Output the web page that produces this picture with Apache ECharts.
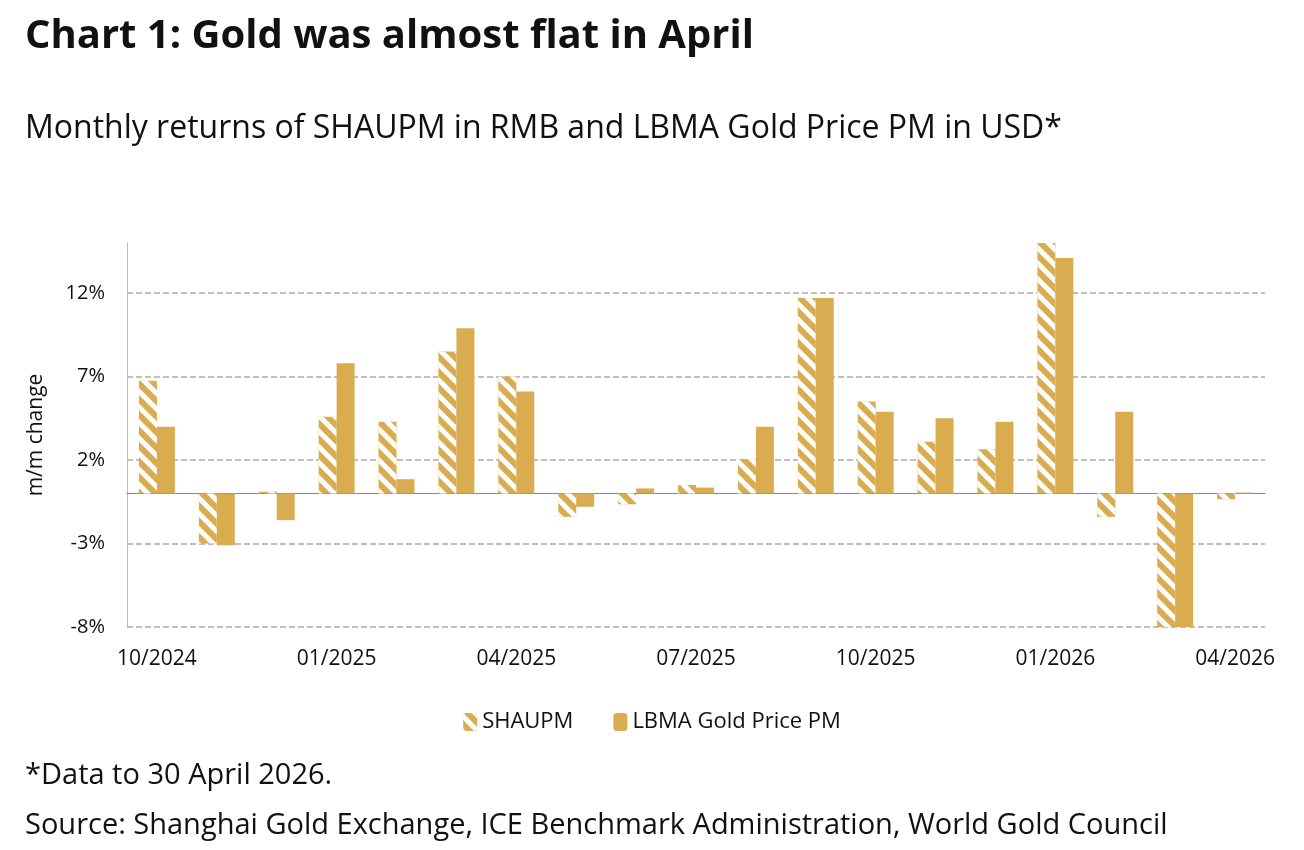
<!DOCTYPE html>
<html><head><meta charset="utf-8">
<script src="https://cdn.jsdelivr.net/npm/echarts@6/dist/echarts.min.js"></script>
<style>body{margin:0;background:#fff}#c{width:1304px;height:850px}</style>
</head><body><div id="c"></div>
<script>
var months = ['10/2024','11/2024','12/2024','01/2025','02/2025','03/2025','04/2025','05/2025','06/2025','07/2025','08/2025','09/2025','10/2025','11/2025','12/2025','01/2026','02/2026','03/2026','04/2026'];
var shaupm = [6.75,-3.0,0.1,4.6,4.3,8.5,7.0,-1.4,-0.65,0.5,2.05,11.7,5.5,3.1,2.65,15.0,-1.4,-8.0,-0.35];
var lbma = [4.0,-3.1,-1.6,7.8,0.85,9.9,6.1,-0.8,0.3,0.35,4.0,11.7,4.9,4.5,4.3,14.1,4.9,-8.0,0.05];

var gold = '#D9AC50';
var font = 'Open Sans';
var chart = echarts.init(document.getElementById('c'));
chart.setOption({
    textStyle: {fontFamily: font},
    title: [
        {text: 'Chart 1: Gold was almost flat in April', left: 20, top: 12,
         textStyle: {fontSize: 40, fontWeight: 'bold', color: '#111', fontFamily: font}},
        {text: 'Monthly returns of SHAUPM in RMB and LBMA Gold Price PM in USD*', left: 20, top: 108,
         textStyle: {fontSize: 32, fontWeight: 'normal', color: '#111', fontFamily: font}},
        {text: '*Data to 30 April 2026.', left: 20, top: 756,
         textStyle: {fontSize: 29, fontWeight: 'normal', color: '#111', fontFamily: font}},
        {text: 'Source: Shanghai Gold Exchange, ICE Benchmark Administration, World Gold Council', left: 20, top: 806,
         textStyle: {fontSize: 29, fontWeight: 'normal', color: '#111', fontFamily: font}}
    ],
    legend: {
        bottom: 112, left: 'center', itemGap: 40, itemWidth: 14, itemHeight: 18,
        textStyle: {fontSize: 22, color: '#111'},
        data: ['SHAUPM', 'LBMA Gold Price PM']
    },
    grid: {left: 127, right: 39, top: 243, bottom: 223},
    xAxis: {
        type: 'category', data: months,
        axisLine: {lineStyle: {color: '#888'}},
        axisTick: {show: false},
        axisLabel: {interval: 2, fontSize: 21, color: '#111', margin: 22}
    },
    yAxis: {
        type: 'value', min: -8, max: 15, interval: 5,
        name: 'm/m change', nameLocation: 'middle', nameGap: 80,
        nameTextStyle: {fontSize: 21, color: '#111'},
        axisLine: {show: true, lineStyle: {color: '#bbb'}},
        axisLabel: {fontSize: 20, color: '#111', margin: 22,
            formatter: function (v) { return v === 15 ? '' : v + '%'; }},
        splitLine: {showMaxLine: false, lineStyle: {type: 'dashed', color: '#aaa', width: 1.5}}
    },
    series: [
        {name: 'SHAUPM', type: 'bar', data: shaupm, barGap: '0%', barCategoryGap: '40%',
         itemStyle: {color: gold, decal: {symbol: 'rect', color: '#fff', dashArrayX: [1, 0], dashArrayY: [5, 6], rotation: Math.PI / 4}}},
        {name: 'LBMA Gold Price PM', type: 'bar', data: lbma,
         itemStyle: {color: gold}}
    ]
});
</script></body></html>
